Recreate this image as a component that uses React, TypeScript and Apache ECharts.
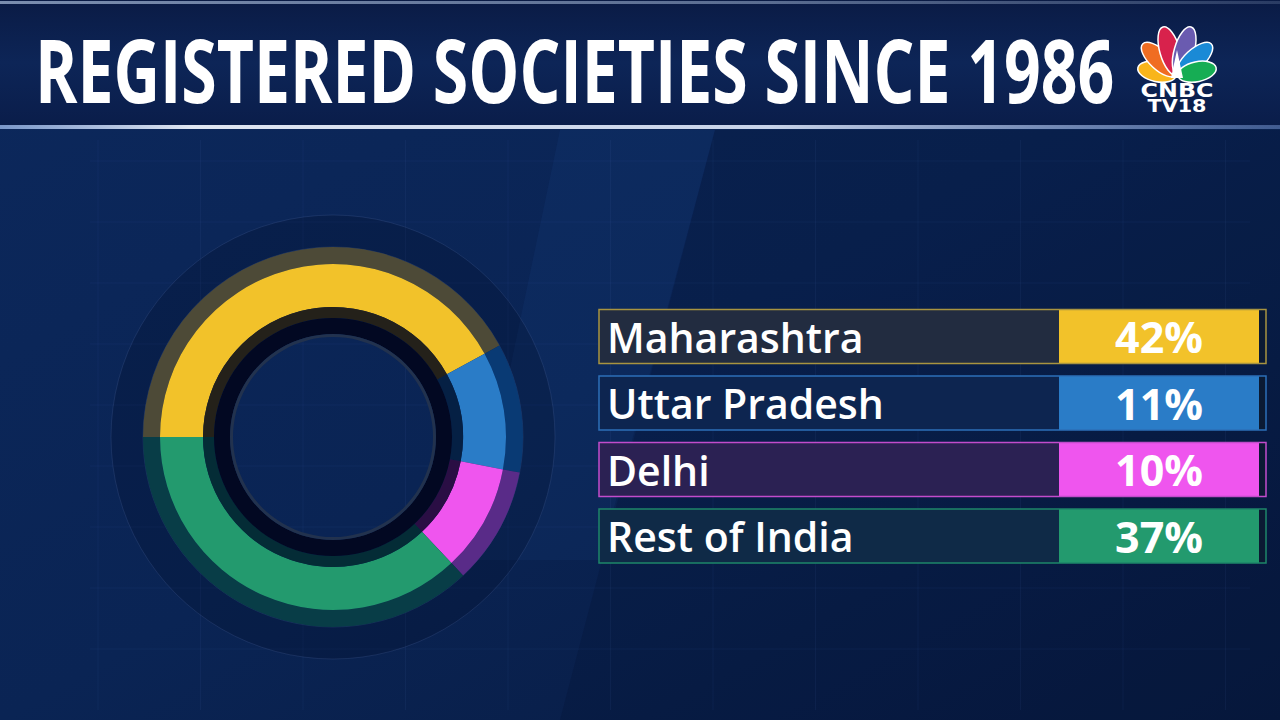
import React, { useEffect, useRef } from "react";
import * as echarts from "echarts";

const TITLE = "REGISTERED SOCIETIES SINCE 1986";
const categories = ["Maharashtra", "Uttar Pradesh", "Delhi", "Rest of India"];
const shares = [42, 11, 10, 37];
const colors = ["#f2c22a", "#2a7cc7", "#ef55ee", "#239a6e"];
const rimColors = ["#4d4a37", "#093a74", "#592b88", "#083d47"];
const shadeColors = ["#24211a", "#052044", "#2a0e44", "#042c36"];
const rowBg = ["#222c40", "#0d2550", "#2b2153", "#0f2a47"];
const rowBorder = ["#a89440", "#2c6fb8", "#c24ccc", "#1e876a"];
const peacockColors = ["#f9b51b", "#f06d22", "#d8224c", "#6a5bb0", "#1a8ad6", "#16ad54"];

function measure(text: string, font: string, fallback: number): number {
  try {
    const c = document.createElement("canvas");
    const ctx = c.getContext("2d");
    if (!ctx) return fallback;
    ctx.font = font;
    return ctx.measureText(text).width || fallback;
  } catch (e) {
    return fallback;
  }
}

export default function App() {
  const ref = useRef<HTMLDivElement>(null);
  useEffect(() => {
    if (!ref.current) return;
    const chart = echarts.init(ref.current, undefined, { renderer: "svg" });
    const cx = 333;
    const cy = 437;

    const titleFont = "bold 88px 'Open Sans'";
    const tw = measure(TITLE, titleFont, 1490);
    const titleScale = 1080 / tw;

    const graphics: any[] = [];
    graphics.push({
      type: "rect",
      shape: { x: 0, y: 0, width: 1280, height: 720 },
      style: {
        fill: new echarts.graphic.LinearGradient(0, 0, 1, 1, [
          { offset: 0, color: "#0c285c" },
          { offset: 0.5, color: "#0a2454" },
          { offset: 1, color: "#081a40" },
        ]),
      },
      silent: true,
    });
    graphics.push({
      type: "polygon",
      shape: { points: [[560, 130], [715, 130], [600, 560], [470, 560]] },
      style: { fill: "rgba(40,90,170,0.10)" },
      silent: true,
    });
    graphics.push({
      type: "polygon",
      shape: { points: [[715, 130], [1280, 130], [1280, 720], [560, 720]] },
      style: { fill: "rgba(0,10,40,0.18)" },
      silent: true,
    });
    for (let gx = 98; gx < 1250; gx += 102.5) {
      graphics.push({
        type: "line",
        shape: { x1: gx, y1: 140, x2: gx, y2: 710 },
        style: { stroke: "rgba(120,160,230,0.06)", lineWidth: 1 },
        silent: true,
      });
    }
    for (let gy = 161; gy < 710; gy += 61) {
      graphics.push({
        type: "line",
        shape: { x1: 90, y1: gy, x2: 1250, y2: gy },
        style: { stroke: "rgba(120,160,230,0.06)", lineWidth: 1 },
        silent: true,
      });
    }
    graphics.push({
      type: "rect",
      shape: { x: 0, y: 0, width: 1280, height: 126 },
      style: {
        fill: new echarts.graphic.LinearGradient(0, 0, 0, 1, [
          { offset: 0, color: "#0a1b45" },
          { offset: 0.5, color: "#0d2557" },
          { offset: 1, color: "#0a1d4a" },
        ]),
      },
      silent: true,
    });
    graphics.push({
      type: "rect",
      shape: { x: 0, y: 1, width: 1280, height: 3 },
      style: {
        fill: new echarts.graphic.LinearGradient(0, 0, 1, 0, [
          { offset: 0, color: "rgba(170,190,220,0.7)" },
          { offset: 0.6, color: "rgba(170,190,220,0.5)" },
          { offset: 1, color: "rgba(170,190,220,0.2)" },
        ]),
      },
      silent: true,
    });
    graphics.push({
      type: "rect",
      shape: { x: 0, y: 125, width: 1280, height: 4 },
      style: {
        fill: new echarts.graphic.LinearGradient(0, 0, 1, 0, [
          { offset: 0, color: "rgba(150,180,230,0.8)" },
          { offset: 0.15, color: "rgba(235,240,250,0.95)" },
          { offset: 0.6, color: "rgba(220,230,250,0.9)" },
          { offset: 1, color: "rgba(120,150,210,0.5)" },
        ]),
      },
      silent: true,
    });
    graphics.push({
      type: "text",
      x: 35,
      y: 69,
      scaleX: titleScale,
      style: {
        text: TITLE,
        fill: "#ffffff",
        fontFamily: "'Open Sans'",
        fontWeight: "bold",
        fontSize: 88,
        textAlign: "left",
        textVerticalAlign: "middle",
      },
      silent: true,
    });
    // logo peacock
    const angles = [78, 47, 16, -16, -47, -78];
    const lens = [39, 46, 50, 50, 46, 39];
    peacockColors.forEach((c, i) => {
      graphics.push({
        type: "group",
        x: 1177,
        y: 76,
        rotation: (angles[i] * Math.PI) / 180,
        silent: true,
        children: [
          {
            type: "ellipse",
            shape: { cx: 0, cy: -lens[i] / 2 - 1, rx: 10, ry: lens[i] / 2 },
            style: { fill: c, stroke: "#ffffff", lineWidth: 1.5 },
          },
        ],
      });
    });
    graphics.push({
      type: "polygon",
      shape: { points: [[1177, 50], [1171, 78], [1183, 78]] },
      style: { fill: "#ffffff" },
      silent: true,
    });
    graphics.push({
      type: "text",
      x: 1177,
      y: 90,
      scaleX: 1.25,
      style: {
        text: "CNBC",
        fill: "#ffffff",
        fontFamily: "'DejaVu Sans'",
        fontWeight: "bold",
        fontSize: 19,
        textAlign: "center",
        textVerticalAlign: "middle",
      },
      silent: true,
    });
    graphics.push({
      type: "text",
      x: 1177,
      y: 106,
      scaleX: 1.15,
      style: {
        text: "TV18",
        fill: "#ffffff",
        fontFamily: "'DejaVu Sans'",
        fontWeight: "bold",
        fontSize: 18,
        textAlign: "center",
        textVerticalAlign: "middle",
      },
      silent: true,
    });
    categories.forEach((name, i) => {
      const y0 = 309.5 + i * 66.5;
      const h = 54;
      graphics.push({
        type: "rect",
        shape: { x: 599, y: y0, width: 460, height: h },
        style: { fill: rowBg[i] },
        silent: true,
      });
      graphics.push({
        type: "rect",
        shape: { x: 1059, y: y0, width: 200, height: h },
        style: { fill: colors[i] },
        silent: true,
      });
      graphics.push({
        type: "rect",
        shape: { x: 1259, y: y0, width: 7, height: h },
        style: { fill: "#0b1a33" },
        silent: true,
      });
      graphics.push({
        type: "rect",
        shape: { x: 599, y: y0, width: 667, height: h },
        style: { fill: "none", stroke: rowBorder[i], lineWidth: 1.5 },
        silent: true,
      });
      graphics.push({
        type: "text",
        x: 607,
        y: y0 + h / 2,
        style: {
          text: name,
          fill: "#ffffff",
          fontFamily: "'Open Sans'",
          fontWeight: 600,
          fontSize: 41,
          textAlign: "left",
          textVerticalAlign: "middle",
        },
        silent: true,
      });
      graphics.push({
        type: "text",
        x: 1159,
        y: y0 + h / 2,
        style: {
          text: shares[i] + "%",
          fill: "#ffffff",
          fontFamily: "'Open Sans'",
          fontWeight: "bold",
          fontSize: 43,
          textAlign: "center",
          textVerticalAlign: "middle",
        },
        silent: true,
      });
    });

    const pieBase = {
      type: "pie",
      center: [cx, cy],
      startAngle: 180,
      clockwise: true,
      silent: true,
      label: { show: false },
      labelLine: { show: false },
      emphasis: { disabled: true },
    };
    const mk = (cols: string[]) =>
      categories.map((c, i) => ({ name: c, value: shares[i], itemStyle: { color: cols[i], borderWidth: 0 } }));

    chart.setOption({
      animation: false,
      backgroundColor: "#0a2252",
      graphic: graphics,
      series: [
        {
          ...pieBase,
          radius: [190, 222],
          data: [{ name: "halo", value: 1, itemStyle: { color: "rgba(0,8,30,0.22)", borderColor: "rgba(120,150,210,0.15)", borderWidth: 1 } }],
        },
        { ...pieBase, radius: [173, 190], data: mk(rimColors) },
        { ...pieBase, radius: [130, 173], data: mk(colors) },
        { ...pieBase, radius: [119, 130], data: mk(shadeColors) },
        {
          ...pieBase,
          radius: [103, 119],
          data: [{ name: "core", value: 1, itemStyle: { color: "#020822" } }],
        },
        {
          ...pieBase,
          radius: [100, 103],
          data: [{ name: "edge", value: 1, itemStyle: { color: "#22324e" } }],
        },
      ],
    });
    return () => chart.dispose();
  }, []);
  return (
    <div
      ref={ref}
      style={{ position: "fixed", left: 0, top: 0, width: 1280, height: 720 }}
    />
  );
}
